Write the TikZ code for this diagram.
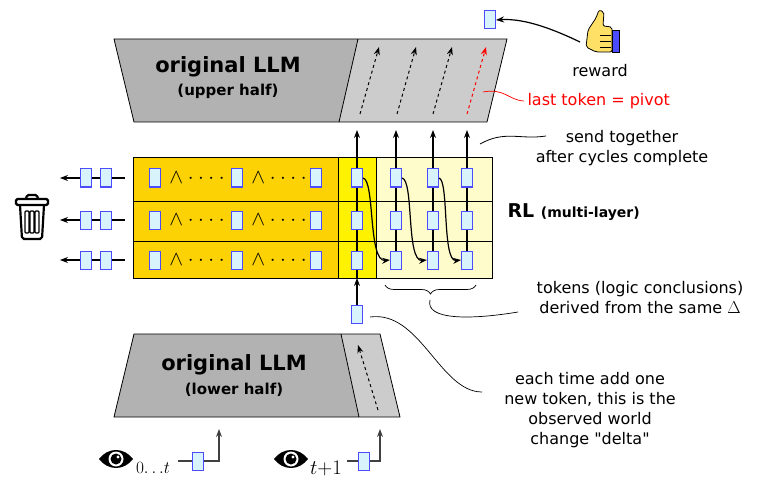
\documentclass[tikz,border=0pt]{standalone}
\usepackage{fontspec}
\setmainfont{DejaVu Sans}[Ligatures=TeXOff]
\usetikzlibrary{arrows.meta,decorations.pathreplacing}
\begin{document}
\begin{tikzpicture}[x=1pt,y=-1pt,
 tok/.style={draw=blue!70,fill=cyan!15,line width=1pt,minimum width=11pt,minimum height=18pt,inner sep=0pt},
 cell/.style={draw=black,line width=0.9pt},
 arr/.style={-{Stealth[length=8pt,width=6pt]},line width=1.2pt},
 darr/.style={-{Stealth[length=8pt,width=6pt]},dashed,line width=1pt},
 lbl/.style={font=\fontsize{16}{20}\selectfont,align=center},
 eye/.pic={\fill (-17,0) .. controls (-8,-12) and (8,-12) .. (17,0) .. controls (8,12) and (-8,12) .. (-17,0) -- cycle;
   \fill[white] (0,0) circle (7.5); \fill (0,0) circle (5.5); \fill[white] (2,-2) circle (1.6);}]
\useasboundingbox (0,0) rectangle (774,492);
% upper LLM
\fill[gray!60] (114,39) -- (358,39) -- (339,122) -- (134,122) -- cycle;
\fill[gray!40] (358,39) -- (507,39) -- (487,122) -- (339,122) -- cycle;
\draw[line width=0.8pt] (114,39) -- (507,39) -- (487,122) -- (134,122) -- cycle (358,39) -- (339,122);
\node[font=\bfseries\fontsize{21}{24}\selectfont] (up) at (228,67) {original LLM};
\node[font=\bfseries\fontsize{15}{18}\selectfont] (uph) at (228,91) {(upper half)};
\foreach \x/\n in {360/a,397/b,433/c}{\coordinate (d\n1) at (\x,114); \coordinate (d\n2) at (\x+19,47); \draw[darr] (d\n1) -- (d\n2);}
\coordinate (dr1) at (467,114); \coordinate (dr2) at (486,47);
\draw[darr,red] (dr1) -- (dr2);
% grid
\fill[yellow!50!orange!60!yellow] (133,157) rectangle (338,278);
\fill[yellow] (338,157) rectangle (376,278);
\fill[yellow!20] (376,157) rectangle (492,278);
\draw[cell] (133,157) rectangle (492,278);
\draw[cell] (133,201) -- (492,201) (133,241) -- (492,241) (338,157) -- (338,278) (376,157) -- (376,278);
\foreach \y/\r in {178/1,220/2,260/3}{
 \node[tok] (o1\r) at (155,\y) {};
 \node[tok] (o2\r) at (237,\y) {};
 \node[tok] (o3\r) at (316,\y) {};
 \node[font=\fontsize{20}{20}\selectfont] (w1\r) at (197,\y) {$\wedge\cdot\cdot\cdot\cdot$};
 \node[font=\fontsize{20}{20}\selectfont] (w2\r) at (279,\y) {$\wedge\cdot\cdot\cdot\cdot$};
 \coordinate (le\r) at (60,\y);
 \coordinate (ls\r) at (125,\y);
 \draw[arr] (ls\r) -- (le\r);
 \node[tok] (l1\r) at (106,\y) {};
 \node[tok] (l2\r) at (86,\y) {};
}
\coordinate (topy) at (357,130); \coordinate (boty) at (357,278);
\draw[arr] (boty) -- (topy);
\foreach \y/\r in {178/1,220/2,260/3}{\node[tok] (y\r) at (357,\y) {};}
\foreach \x/\c in {396/a,433/b,467/c}{
 \coordinate (top\c) at (\x,130);
 \coordinate (bot\c) at (\x,260);
 \draw[arr] (bot\c) -- (top\c);
 \foreach \y/\r in {178/1,220/2,260/3}{\node[tok] (\c\r) at (\x,\y) {};}
}
\draw[arr] (y1.east) .. controls (375,180) and (368,262) .. (a3.west);
\draw[arr] (a1.east) .. controls (414,180) and (406,262) .. (b3.west);
\draw[arr] (b1.east) .. controls (449,180) and (442,262) .. (c3.west);
% input token
\node[tok] (in) at (357,314) {};
\coordinate (gb) at (357,278);
\draw[arr] (in) -- (gb);
% lower LLM
\fill[gray!60] (134,334) -- (341,334) -- (359,417) -- (114,417) -- cycle;
\fill[gray!40] (341,334) -- (380,334) -- (400,417) -- (359,417) -- cycle;
\draw[line width=0.8pt] (134,334) -- (380,334) -- (400,417) -- (114,417) -- cycle (341,334) -- (359,417);
\node[font=\bfseries\fontsize{21}{24}\selectfont] (lo) at (234,365) {original LLM};
\node[font=\bfseries\fontsize{15}{18}\selectfont] (loh) at (234,390) {(lower half)};
\coordinate (dl1) at (378,410); \coordinate (dl2) at (358,345);
\draw[darr] (dl1) -- (dl2);
% eyes
\pic at (116,459) {eye};
\node[font=\fontsize{18}{18}\selectfont] (e1t) at (153,468) {$0{\ldots}t$};
\pic at (291,459) {eye};
\node[font=\fontsize{20}{20}\selectfont] (e2t) at (326,468) {$t{+}1$};
\coordinate (i1s) at (178,461); \coordinate (i1c) at (219,461); \coordinate (i1e) at (219,429);
\coordinate (i2s) at (347,461); \coordinate (i2c) at (380,461); \coordinate (i2e) at (380,429);
\draw[arr,gray!50!black] (i1s) -- (i1c) -- (i1e);
\draw[arr,gray!50!black] (i2s) -- (i2c) -- (i2e);
\node[tok] (i1) at (198,461) {}; \node[tok] (i2) at (364,461) {};
% trash can
\begin{scope}[line width=2.2pt]
\draw[rounded corners=2pt] (20,205) -- (22,239) -- (42,239) -- (44,205);
\draw[rounded corners=1.5pt] (16,199) rectangle (48,205);
\draw[rounded corners=1.5pt] (26,199) -- (27,195) -- (37,195) -- (38,199);
\draw[line width=1.4pt,rounded corners=1pt] (25,211) rectangle (29,233) (30,211) rectangle (34,233) (35,211) rectangle (39,233);
\end{scope}
% reward
\node[tok] (rt) at (490,20) {};
\coordinate (thumb) at (580,42);
\draw[arr] (thumb) .. controls (555,30) and (525,18) .. (rt.east);
\fill[orange!40!yellow!60,draw=black,line width=0.8pt,rounded corners=2pt] (588,30) -- (596,18) -- (599,10) -- (604,12) -- (603,26) -- (612,27) -- (612,52) -- (596,52) -- (586,47) -- cycle;
\fill[blue!70,draw=black,line width=0.8pt] (612,30) rectangle (619,52);
\draw[line width=0.6pt] (600,35) -- (611,35) (600,41) -- (611,41) (600,47) -- (611,47);
\node[lbl] (rw) at (600,71) {reward};
\node[lbl,red,anchor=west] (piv) at (524,101) {last token = pivot};
\draw[red,line width=0.7pt] (483,92) .. controls (505,88) and (508,100) .. (piv.west);
\node[lbl] (send) at (622,148) {send together\\after cycles complete};
\draw[line width=0.8pt] (480,144) .. controls (505,130) and (520,140) .. (546,136);
\node[anchor=west,font=\bfseries] (rl) at (504,212) {\fontsize{19}{22}\selectfont RL \fontsize{14}{16}\selectfont(multi-layer)};
\draw[decorate,decoration={brace,amplitude=9pt},line width=0.7pt] (476,285) -- (385,285);
\node[lbl] (tk) at (640,298) {tokens (logic conclusions)\\derived from the same $\Delta$};
\draw[line width=0.7pt] (430,300) .. controls (425,320) and (470,320) .. (518,312);
\node[lbl] (ea) at (590,410) {each time add one\\new token, this is the\\observed world\\change "delta"};
\draw[line width=0.7pt] (370,317) .. controls (420,310) and (440,392) .. (482,392);
\end{tikzpicture}
\end{document}
